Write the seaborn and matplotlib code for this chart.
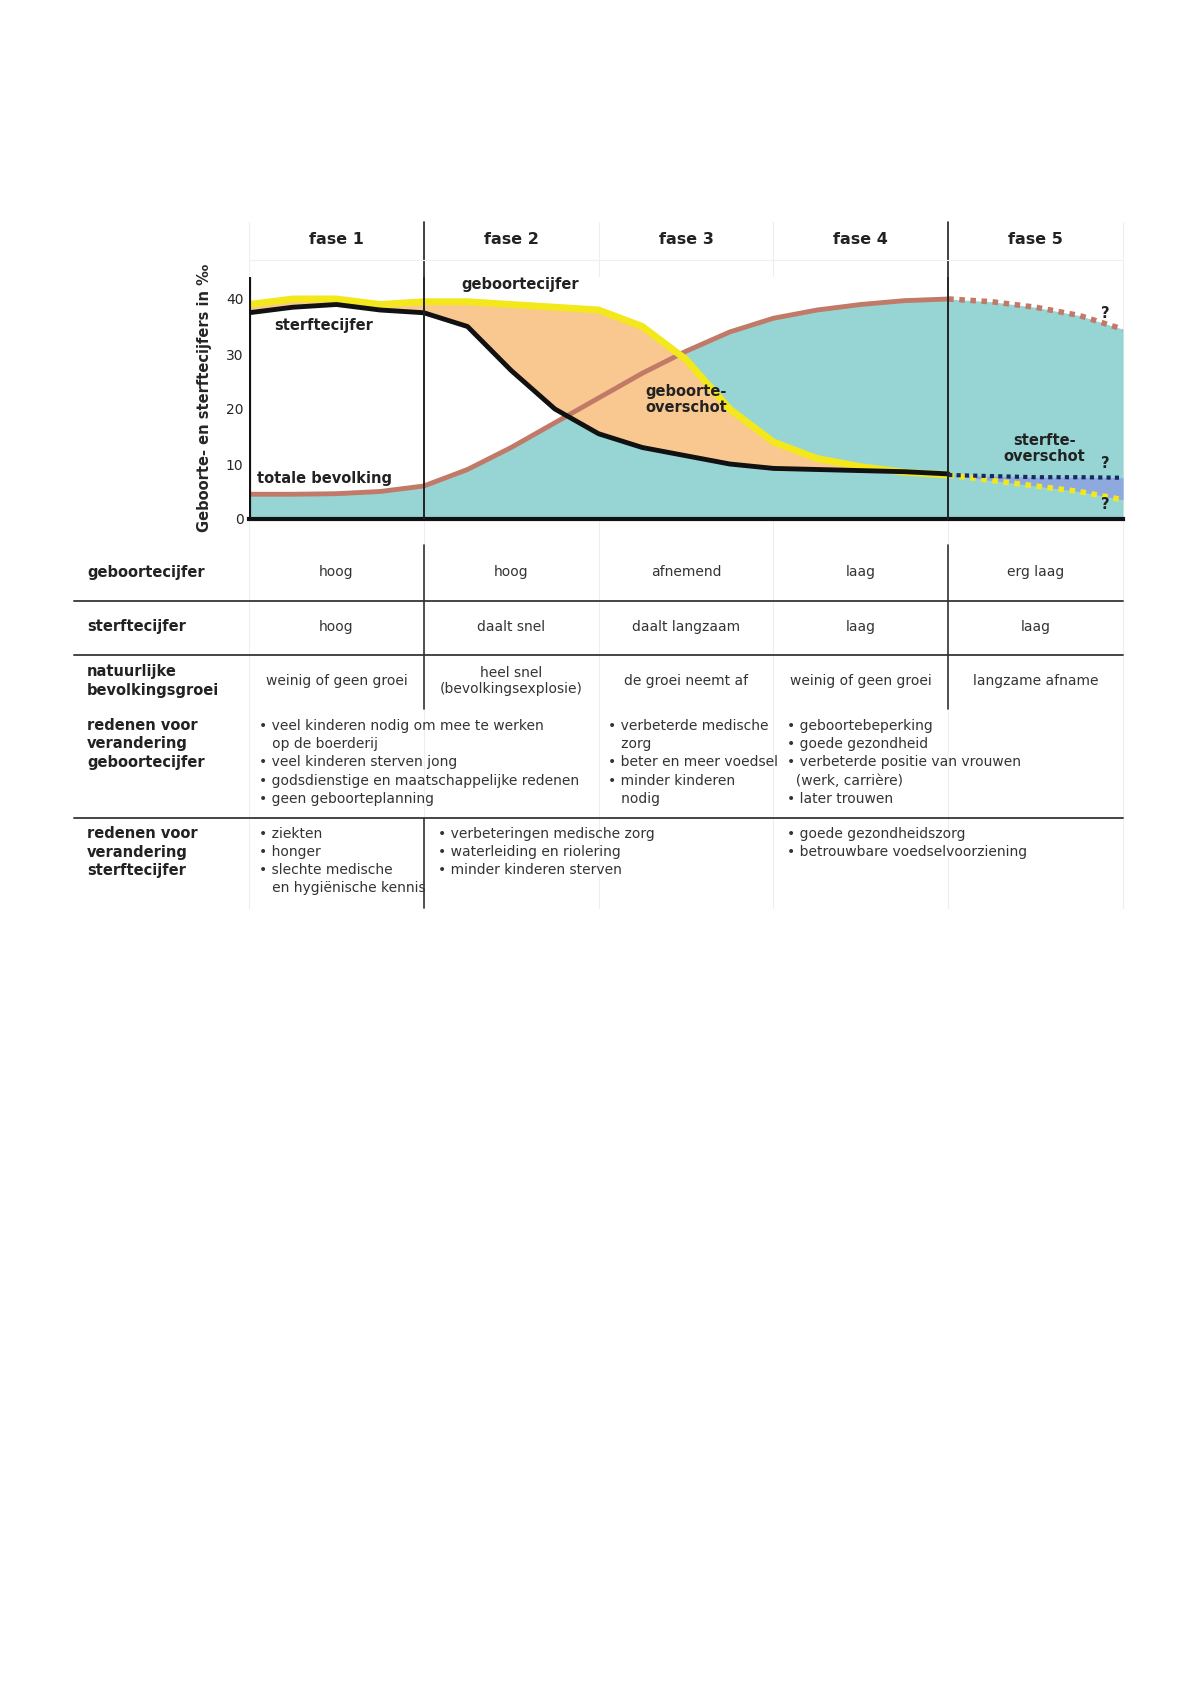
import numpy as np
import matplotlib.pyplot as plt
import seaborn as sns

sns.set_theme(style='white')
plt.rcParams['font.family'] = ['DejaVu Sans']

phases = ['fase 1', 'fase 2', 'fase 3', 'fase 4', 'fase 5']

# solid part of the curves (phase units, 0..4)
x_solid = [0, 0.25, 0.5, 0.75, 1.0, 1.25, 1.5, 1.75, 2.0, 2.25, 2.5, 2.75, 3.0, 3.25, 3.5, 3.75, 4.0]
birth = [39, 40, 40, 39, 39.5, 39.5, 39, 38.5, 38, 35, 29, 20, 14, 11, 9.5, 8.5, 8]
death = [37.5, 38.5, 39, 38, 37.5, 35, 27, 20, 15.5, 13, 11.5, 10, 9.2, 9, 8.8, 8.6, 8.2]
population = [4.5, 4.5, 4.6, 5, 6, 9, 13, 17.5, 22, 26.5, 30.5, 34, 36.5, 38, 39, 39.7, 40]

# uncertain part in fase 5
x_future = [4.0, 4.25, 4.5, 4.75, 5.0]
birth_future = [8, 7, 6, 5, 3.5]
death_future = [8, 7.8, 7.6, 7.6, 7.5]
pop_future = [40, 39.5, 38.5, 37, 34.5]

row_labels = ['geboortecijfer', 'sterftecijfer', 'natuurlijke\nbevolkingsgroei']
row_birth = ['hoog', 'hoog', 'afnemend', 'laag', 'erg laag']
row_death = ['hoog', 'daalt snel', 'daalt langzaam', 'laag', 'laag']
row_growth = ['weinig of geen groei', 'heel snel\n(bevolkingsexplosie)', 'de groei neemt af',
              'weinig of geen groei', 'langzame afname']
reasons_birth = [
    ['• veel kinderen nodig om mee te werken', '   op de boerderij', '• veel kinderen sterven jong',
     '• godsdienstige en maatschappelijke redenen', '• geen geboorteplanning'],
    ['• verbeterde medische', '   zorg', '• beter en meer voedsel', '• minder kinderen', '   nodig'],
    ['• geboortebeperking', '• goede gezondheid', '• verbeterde positie van vrouwen',
     '  (werk, carrière)', '• later trouwen'],
]
reasons_death = [
    ['• ziekten', '• honger', '• slechte medische', '   en hygiënische kennis'],
    ['• verbeteringen medische zorg', '• waterleiding en riolering', '• minder kinderen sterven'],
    ['• goede gezondheidszorg', '• betrouwbare voedselvoorziening'],
]

W, H = 1200, 1696
fig = plt.figure(figsize=(12, 16.96), dpi=100)

teal = '#97d5d5'
orange = '#f8c890'
yellow = '#f3e81c'
brown = '#c27a68'
blue = '#8ea9de'

left, right, y0, y40 = 249, 1123, 519, 299
ymax = 44
ax_h = (y0 - y40) / 40 * ymax
ax = fig.add_axes([left / W, 1 - y0 / H, (right - left) / W, ax_h / H])

xs = np.array(x_solid)
xf = np.array(x_future)
ax.fill_between(np.concatenate([xs, xf[1:]]), 0, population + pop_future[1:], color=teal, lw=0, zorder=1)
ax.fill_between(xs, death, birth, where=np.array(birth) >= np.array(death),
                color=orange, lw=0, zorder=2, interpolate=True)
ax.fill_between(xf, birth_future, death_future, color=blue, lw=0, zorder=2)

sns.lineplot(x=x_solid, y=birth, ax=ax, color=yellow, lw=5, zorder=4)
sns.lineplot(x=x_solid, y=death, ax=ax, color='#111111', lw=3.5, zorder=5)
sns.lineplot(x=x_solid, y=population, ax=ax, color=brown, lw=3.5, zorder=3)
ax.plot(x_future, birth_future, color=yellow, lw=4, ls=(0, (1, 1)), zorder=4)
ax.plot(x_future, death_future, color='#1a2a60', lw=3, ls=(0, (1, 1)), zorder=5)
ax.plot(x_future, pop_future, color=brown, lw=4, ls=(0, (1, 1)), zorder=3)

for b in [1, 4]:
    ax.axvline(b, color='#222222', lw=1.2, zorder=6)
ax.axvline(0, color='#111111', lw=3, zorder=6)

ax.set_xlim(0, 5)
ax.set_ylim(0, ymax)
ax.set_xticks([])
ax.set_yticks([0, 10, 20, 30, 40])
ax.tick_params(axis='y', labelsize=10, pad=4, length=0)
for s in ['top', 'right', 'left']:
    ax.spines[s].set_visible(False)
ax.spines['bottom'].set_linewidth(3)
ax.spines['bottom'].set_color('#111111')
ax.set_ylabel('Geboorte- en sterftecijfers in ‰', fontsize=10.5, fontweight='bold', labelpad=10)

kw = dict(fontsize=10.5, fontweight='bold', color='#222222', zorder=7)
ax.text(1.55, 41.8, 'geboortecijfer', ha='center', **kw)
ax.text(0.43, 34.3, 'sterftecijfer', ha='center', **kw)
ax.text(0.43, 6.5, 'totale bevolking', ha='center', **kw)
ax.text(2.5, 19.5, 'geboorte-\noverschot', ha='center', linespacing=1.1, **kw)
ax.text(4.55, 10.5, 'sterfte-\noverschot', ha='center', linespacing=1.1, **kw)
for yq in [36.5, 9.3, 1.8]:
    ax.text(4.9, yq, '?', ha='center', **kw)

# phase headers and faint grid
col_w = (right - left) / 5
for i, p in enumerate(phases):
    fig.text((left + col_w * (i + 0.5)) / W, 1 - 239 / H, p, ha='center', va='center',
             fontsize=11.5, fontweight='bold', color='#222222')
for i in range(6):
    xx = (left + col_w * i) / W
    fig.add_artist(plt.Line2D([xx, xx], [1 - 222 / H, 1 - 908 / H], color='#eeeeee', lw=0.8, zorder=0))
for xb in [left + col_w, left + col_w * 4]:
    fig.add_artist(plt.Line2D([xb / W] * 2, [1 - 222 / H, 1 - y0 / H], color='#222222', lw=1.2))
fig.add_artist(plt.Line2D([left / W, right / W], [1 - 260 / H] * 2, color='#f0f0f0', lw=0.8))

# table
tl = 74
def hline(y):
    fig.add_artist(plt.Line2D([tl / W, right / W], [1 - y / H] * 2, color='#444444', lw=1.4))
def vline(x, ya, yb):
    fig.add_artist(plt.Line2D([x / W] * 2, [1 - ya / H, 1 - yb / H], color='#333333', lw=1.2))

for y in [601, 655, 818]:
    hline(y)
vline(left + col_w, 545, 709)
vline(left + col_w * 4, 545, 709)
vline(left + col_w, 818, 908)

lab = dict(fontsize=10.5, fontweight='bold', color='#222222', va='center', linespacing=1.3)
txt = dict(fontsize=10, color='#333333', va='center', ha='center', linespacing=1.25)
for lbl, yc in zip(row_labels, [572, 627, 681]):
    fig.text(87 / W, 1 - yc / H, lbl, **lab)
for row, yc in zip([row_birth, row_death, row_growth], [572, 627, 681]):
    for i, t in enumerate(row):
        fig.text((left + col_w * (i + 0.5)) / W, 1 - yc / H, t, **txt)

fig.text(87 / W, 1 - 744 / H, 'redenen voor\nverandering\ngeboortecijfer', **lab)
fig.text(87 / W, 1 - 852 / H, 'redenen voor\nverandering\nsterftecijfer', **lab)

bl = dict(fontsize=10, color='#333333', va='center', ha='left')
for lines, x in zip(reasons_birth, [259, 608, 787]):
    for j, t in enumerate(lines):
        fig.text(x / W, 1 - (726 + 18.2 * j) / H, t, **bl)
for lines, x in zip(reasons_death, [259, 438, 787]):
    for j, t in enumerate(lines):
        fig.text(x / W, 1 - (834 + 18 * j) / H, t, **bl)

fig.savefig('out.png', dpi=100, facecolor='white')
